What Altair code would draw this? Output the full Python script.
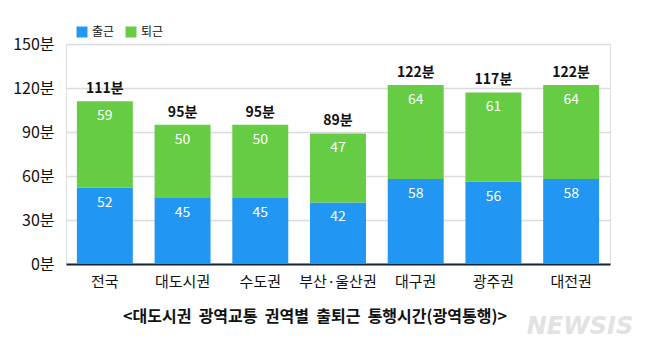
import altair as alt
import pandas as pd

regions = ["전국", "대도시권", "수도권", "부산·울산권", "대구권", "광주권", "대전권"]
commute_in = [52, 45, 45, 42, 58, 56, 58]     # 출근
commute_out = [59, 50, 50, 47, 64, 61, 64]    # 퇴근
totals = [111, 95, 95, 89, 122, 117, 122]
series = ["출근", "퇴근"]
colors = ["#2196F3", "#66CC44"]
y_ticks = [0, 30, 60, 90, 120, 150]
caption_words = ["<대도시권", "광역교통", "권역별", "출퇴근", "통행시간(광역통행)>"]
caption = "\u00a0\u00a0".join(caption_words)

rows = []
for i, r in enumerate(regions):
    rows.append({"region": r, "type": series[0], "value": commute_in[i], "order": 0,
                 "top": commute_in[i]})
    rows.append({"region": r, "type": series[1], "value": commute_out[i], "order": 1,
                 "top": commute_in[i] + commute_out[i]})
df = pd.DataFrame(rows)
tot = pd.DataFrame({"region": regions, "total": totals,
                    "label": [f"{t}분" for t in totals]})

FONT = "Noto Sans CJK KR"

x = alt.X("region:N", sort=regions, title=None,
          scale=alt.Scale(paddingInner=0.28, paddingOuter=0.14),
          axis=alt.Axis(labelAngle=0, labelFontSize=15, labelColor="#111111",
                        labelPadding=10, ticks=False, domain=True,
                        domainColor="#1a2238", domainWidth=2, labelFont=FONT))

bars = alt.Chart(df).mark_bar().encode(
    x=x,
    y=alt.Y("value:Q", stack="zero", title=None,
            scale=alt.Scale(domain=[0, 150], nice=False),
            axis=alt.Axis(values=y_ticks, labelExpr="datum.value + '분'",
                          labelFontSize=16, labelColor="#111111", labelPadding=12,
                          ticks=False, domain=False, grid=True, gridColor="#dcdcdc",
                          gridWidth=1.5, labelFont=FONT)),
    color=alt.Color("type:N", sort=series,
                    scale=alt.Scale(domain=series, range=colors),
                    legend=alt.Legend(title=None, orient="none", legendX=10, legendY=-18,
                                      direction="horizontal", symbolType="square",
                                      symbolSize=120, labelFontSize=12, labelFont=FONT,
                                      columnPadding=10, labelColor="#111111",
                                      symbolStrokeWidth=0)),
    order=alt.Order("order:Q"),
)

seg_labels = alt.Chart(df).mark_text(color="white", fontSize=14, dy=15, font=FONT).encode(
    x=alt.X("region:N", sort=regions),
    y=alt.Y("top:Q"),
    text="value:Q",
)

total_labels = alt.Chart(tot).mark_text(color="#111111", fontSize=14, fontWeight="bold",
                                        dy=-12, font=FONT).encode(
    x=alt.X("region:N", sort=regions),
    y=alt.Y("total:Q"),
    text="label:N",
)

cap = alt.Chart(pd.DataFrame({"t": [caption]})).mark_text(
    fontSize=16, fontWeight="bold", color="#111111", font=FONT
).encode(x=alt.value(249), y=alt.value(273), text="t:N")

wm = alt.Chart(pd.DataFrame({"t": ["NEWSIS"]})).mark_text(
    fontSize=24, fontWeight="bold", fontStyle="italic", color="#e2e2e2", font="DejaVu Sans"
).encode(x=alt.value(514), y=alt.value(283), text="t:N")

chart = alt.layer(bars, seg_labels, total_labels, cap, wm).properties(
    width=544, height=220,
    autosize=alt.AutoSizeParams(type="none"),
    padding={"left": 66, "top": 44, "right": 48, "bottom": 89},
).configure_view(stroke=None).configure(background="white")

chart.save("out.html", embed_options={"renderer": "svg", "actions": False})
